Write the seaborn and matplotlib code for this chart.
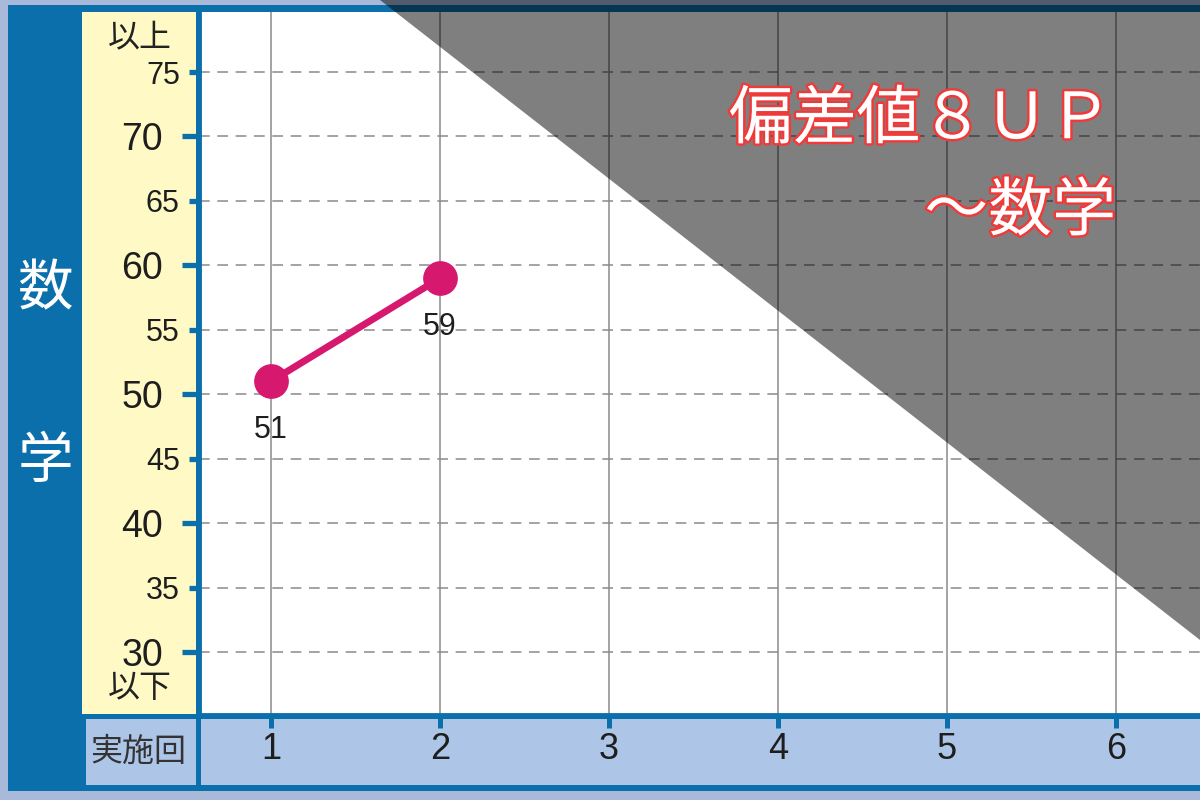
import matplotlib
matplotlib.use('Agg')

import matplotlib.pyplot as plt
import matplotlib.patheffects as pe
from matplotlib.patches import Rectangle, Polygon
import seaborn as sns
import pandas as pd

# data
rounds = [1, 2]
scores = [51, 59]
x_ticks = [1, 2, 3, 4, 5, 6]
y_major = [30, 40, 50, 60, 70]
y_minor = [35, 45, 55, 65, 75]

title_line1 = "偏差値８ＵＰ"
title_line2 = "～数学"
subject = ["数", "学"]

BLUE = "#0b6fab"
YELLOW = "#fffac5"
LIGHTBLUE = "#adc5e7"
BG = "#a8b9d9"
PINK = "#d6186f"
GRID = "#8a8a8a"

sns.set_theme(style="white")
plt.rcParams['font.family'] = ['Liberation Sans', 'Noto Sans CJK JP', 'DejaVu Sans']

W, H = 1200, 800
fig = plt.figure(figsize=(12, 8), dpi=100)
fig.patch.set_facecolor(BG)


def px_rect(x0, y0, x1, y1, color, z=-5):
    # rectangle given in pixel coords, y from top
    r = Rectangle((x0 / W, 1 - y1 / H), (x1 - x0) / W, (y1 - y0) / H,
                  transform=fig.transFigure, facecolor=color,
                  edgecolor="none", zorder=z)
    fig.patches.append(r)


px_rect(8, 5, 1200, 791, BLUE)
px_rect(82, 12, 196, 714, YELLOW, -4)
px_rect(86, 719, 196, 785, LIGHTBLUE, -4)
px_rect(201, 719, 1200, 785, LIGHTBLUE, -4)

left = 198.5
bottom = 716
top = 12
ax = fig.add_axes([left / W, 1 - bottom / H, (W - left) / W, (bottom - top) / H])
ax.set_facecolor("white")

df = pd.DataFrame({"round": rounds, "score": scores})
sns.lineplot(data=df, x="round", y="score", ax=ax, color=PINK,
             linewidth=5, marker="o", markersize=25,
             markeredgewidth=0, zorder=5)

for xv, yv in zip(rounds, scores):
    ax.annotate(str(yv), (xv, yv), xytext=(0, -35), textcoords="offset points",
                ha="center", va="center", fontsize=22, color="#1e1e1e",
                zorder=6)

ax.set_xlim(0.571, 6.497)
ax.set_ylim(25.03, 79.66)

ax.set_xticks(x_ticks)
ax.set_xticklabels([str(v) for v in x_ticks], fontsize=26, color="#1e1e1e")
ax.set_yticks(y_major)
ax.set_yticklabels([str(v) for v in y_major], fontsize=27, color="#1e1e1e",
                   family=['Liberation Sans Narrow', 'Liberation Sans'])
ax.set_yticks(y_minor, minor=True)
ax.set_yticklabels([str(v) for v in y_minor], minor=True, fontsize=22,
                   color="#1e1e1e",
                   family=['Liberation Sans Narrow', 'Liberation Sans'])

ax.tick_params(axis="x", direction="out", length=8.5, width=3.6,
               color=BLUE, pad=3)
ax.tick_params(axis="y", which="major", direction="out", length=12.6,
               width=3.8, color=BLUE, pad=13)
ax.tick_params(axis="y", which="minor", direction="out", length=7.5,
               width=3.8, color=BLUE, pad=6)
ax.tick_params(left=True, bottom=True)
ax.tick_params(axis="y", which="minor", left=True)

for yv in y_major + y_minor:
    ax.axhline(yv, color=GRID, linewidth=1.1, linestyle=(0, (7, 5)), zorder=1)
for xv in x_ticks:
    ax.axvline(xv, color=GRID, linewidth=1.1, zorder=1)

for s in ["top", "right"]:
    ax.spines[s].set_visible(False)
for s in ["left", "bottom"]:
    ax.spines[s].set_color(BLUE)
    ax.spines[s].set_linewidth(4.2)
    ax.spines[s].set_zorder(4)
ax.set_xlabel("")
ax.set_ylabel("")

# side labels
fig.text(140 / W, 1 - 38 / H, "以上", ha="center", va="center",
         fontsize=23, color="#222222", family=['Noto Sans CJK JP'])
fig.text(140 / W, 1 - 688 / H, "以下", ha="center", va="center",
         fontsize=23, color="#222222", family=['Noto Sans CJK JP'])
fig.text(138 / W, 1 - 752 / H, "実施回", ha="center", va="center",
         fontsize=23, color="#333333", family=['Noto Sans CJK JP'])
fig.text(45 / W, 1 - 290 / H, subject[0], ha="center", va="center",
         fontsize=40, color="white", family=['Noto Sans CJK JP'])
fig.text(45 / W, 1 - 462 / H, subject[1], ha="center", va="center",
         fontsize=40, color="white", family=['Noto Sans CJK JP'])

# dark overlay triangle
tri = Polygon([(380 / W, 1.0), (1.0, 1.0), (1.0, 1 - 640 / H)],
              closed=True, transform=fig.transFigure,
              facecolor="black", alpha=0.5, edgecolor="none", zorder=10)
fig.patches.append(tri)

stroke = [pe.Stroke(linewidth=3.5, foreground="#f03a3a"), pe.Normal()]
t1 = fig.text(1112 / W, 1 - 120 / H, title_line1, ha="right", va="center",
              fontsize=46, color="white", family=['Noto Sans CJK JP'],
              zorder=11)
t1.set_path_effects(stroke)
t2 = fig.text(1116 / W, 1 - 212 / H, title_line2, ha="right", va="center",
              fontsize=46, color="white", family=['Noto Sans CJK JP'],
              zorder=11)
t2.set_path_effects(stroke)

plt.savefig("out.png", dpi=100, facecolor=fig.get_facecolor())
plt.close()
